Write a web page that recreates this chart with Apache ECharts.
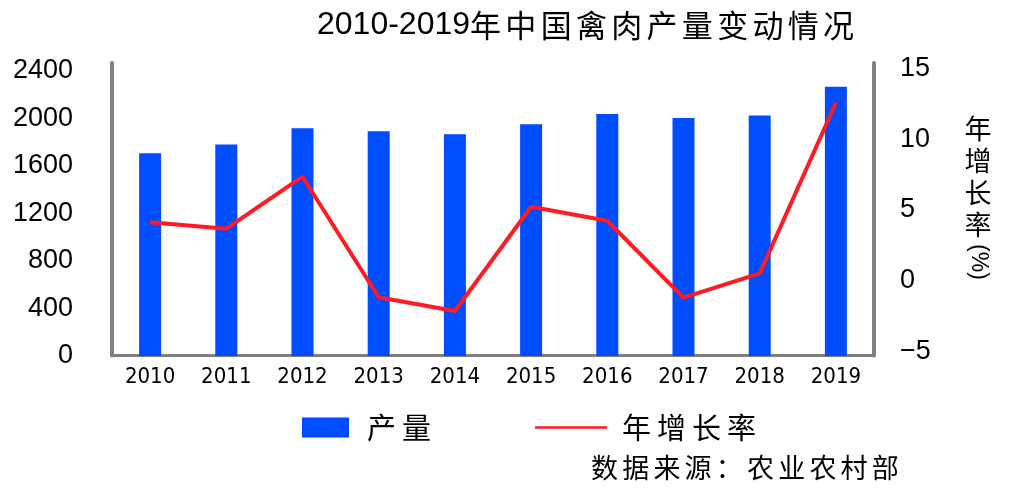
<!DOCTYPE html>
<html>
<head>
<meta charset="utf-8">
<script src="https://cdn.jsdelivr.net/npm/echarts@6/dist/echarts.min.js"></script>
<style>
html,body{margin:0;padding:0;background:#fff;}
#chart{width:1012px;height:491px;}
</style>
</head>
<body>
<div id="chart"></div>
<script>
const years = ['2010','2011','2012','2013','2014','2015','2016','2017','2018','2019'];
const output = [1705, 1780, 1915, 1890, 1865, 1949, 2035, 2002, 2024, 2265];
const growth = [4.13, 3.68, 7.35, -1.16, -2.13, 5.23, 4.24, -1.19, 0.53, 12.57];
const leftTicks = [0, 400, 800, 1200, 1600, 2000, 2400];
const rightTicks = [-5, 0, 5, 10, 15];
const titleNum = '2010-2019';
const titleCJK = '年中国禽肉产量变动情况';
const sourceText = '数据来源：农业农村部';
const seriesNames = ['产量', '年增长率'];
const rightAxisName = '年增长率';
const rightAxisUnit = '(%)';

const CJK = "'Noto Sans CJK SC', sans-serif";
const LAT = "'Liberation Sans', Arial, sans-serif";
const NARROW = "'Liberation Sans Narrow', 'Arial Narrow', 'DejaVu Sans Condensed', sans-serif";
const BLUE = '#004cff';
const RED = '#ff1a24';
const GRAY = '#808080';

function spaced(str, key) {
  return str.split('').map(c => '{' + key + '|' + c + '}').join('');
}

const chart = echarts.init(document.getElementById('chart'));
const gridLR = { left: 112, right: 138 };

chart.setOption({
  animation: false,
  backgroundColor: '#fff',
  title: [
    {
      text: '{d|' + titleNum + '}' + spaced(titleCJK, 'c'),
      left: 312, top: 1,
      textStyle: {
        fontWeight: 'normal',
        rich: {
          d: { fontFamily: LAT, fontSize: 32, fontWeight: 'normal', color: '#000', lineHeight: 38 },
          c: { fontFamily: CJK, fontSize: 31, fontWeight: 'normal', color: '#000', width: 35.3, lineHeight: 38 }
        }
      }
    },
    {
      text: spaced(sourceText, 's'),
      left: 586, top: 446,
      textStyle: {
        fontWeight: 'normal',
        rich: {
          s: { fontFamily: CJK, fontSize: 27, fontWeight: 'normal', color: '#000', width: 31.2, lineHeight: 34 }
        }
      }
    }
  ],
  legend: [
    {
      data: [{ name: seriesNames[0], icon: 'rect' }],
      left: 297, top: 408,
      itemWidth: 47, itemHeight: 20,
      formatter: n => spaced(n, 'c'),
      textStyle: {
        padding: [0, 0, 0, 13],
        rich: { c: { fontFamily: CJK, fontSize: 29, color: '#000', width: 35, lineHeight: 34 } }
      }
    },
    {
      data: [{ name: seriesNames[1], icon: 'rect' }],
      left: 530, top: 408,
      itemWidth: 72, itemHeight: 2.5,
      formatter: n => spaced(n, 'c'),
      textStyle: {
        padding: [0, 0, 0, 10],
        rich: { c: { fontFamily: CJK, fontSize: 29, color: '#000', width: 35, lineHeight: 34 } }
      }
    }
  ],
  grid: [
    Object.assign({ top: 63, bottom: 491 - 355.5 }, gridLR),
    Object.assign({ top: 70.7, bottom: 491 - 356 }, gridLR),
    Object.assign({ top: 68.3, bottom: 491 - 351.7 }, gridLR)
  ],
  xAxis: [
    {
      gridIndex: 0, type: 'category', data: years,
      axisLine: { show: true, lineStyle: { color: GRAY, width: 3 } },
      axisTick: { show: false },
      axisLabel: { color: '#000', fontFamily: NARROW, fontSize: 22, margin: 11 }
    },
    { gridIndex: 1, type: 'category', data: years, show: false },
    { gridIndex: 2, type: 'category', data: years, show: false }
  ],
  yAxis: [
    {
      gridIndex: 0, type: 'value', min: 0, max: 1, position: 'left',
      axisLine: { show: true, lineStyle: { color: GRAY, width: 4 } },
      axisTick: { show: false }, axisLabel: { show: false }, splitLine: { show: false }
    },
    {
      gridIndex: 0, type: 'value', min: 0, max: 1, position: 'right',
      axisLine: { show: true, lineStyle: { color: GRAY, width: 4 } },
      axisTick: { show: false }, axisLabel: { show: false }, splitLine: { show: false }
    },
    {
      gridIndex: 1, type: 'value', position: 'left',
      min: leftTicks[0], max: leftTicks[leftTicks.length - 1], interval: leftTicks[1] - leftTicks[0],
      axisLine: { show: false }, axisTick: { show: false }, splitLine: { show: false },
      axisLabel: { color: '#000', fontFamily: LAT, fontSize: 27, margin: 39, formatter: v => String(v) }
    },
    {
      gridIndex: 2, type: 'value', position: 'right',
      min: rightTicks[0], max: rightTicks[rightTicks.length - 1], interval: rightTicks[1] - rightTicks[0],
      axisLine: { show: false }, axisTick: { show: false }, splitLine: { show: false },
      axisLabel: {
        color: '#000', fontFamily: LAT, fontSize: 27, margin: 26,
        formatter: v => String(v).replace('-', '\u2212')
      }
    }
  ],
  series: [
    {
      name: seriesNames[0], type: 'bar', xAxisIndex: 1, yAxisIndex: 2,
      data: output, barWidth: 22,
      itemStyle: { color: BLUE }
    },
    {
      name: seriesNames[1], type: 'line', xAxisIndex: 2, yAxisIndex: 3,
      data: growth, symbol: 'none', z: 5,
      lineStyle: { color: RED, width: 4 },
      itemStyle: { color: RED }
    }
  ],
  graphic: [
    {
      type: 'text', x: 978, y: 177,
      style: {
        text: rightAxisName.split('').join('\n'),
        font: '27px ' + CJK, lineHeight: 32,
        fill: '#000', align: 'center', verticalAlign: 'middle'
      }
    },
    {
      type: 'text', x: 978, y: 262, rotation: -Math.PI / 2,
      style: {
        text: rightAxisUnit,
        font: '23px ' + LAT,
        fill: '#000', align: 'center', verticalAlign: 'middle'
      }
    }
  ]
});
</script>
</body>
</html>
